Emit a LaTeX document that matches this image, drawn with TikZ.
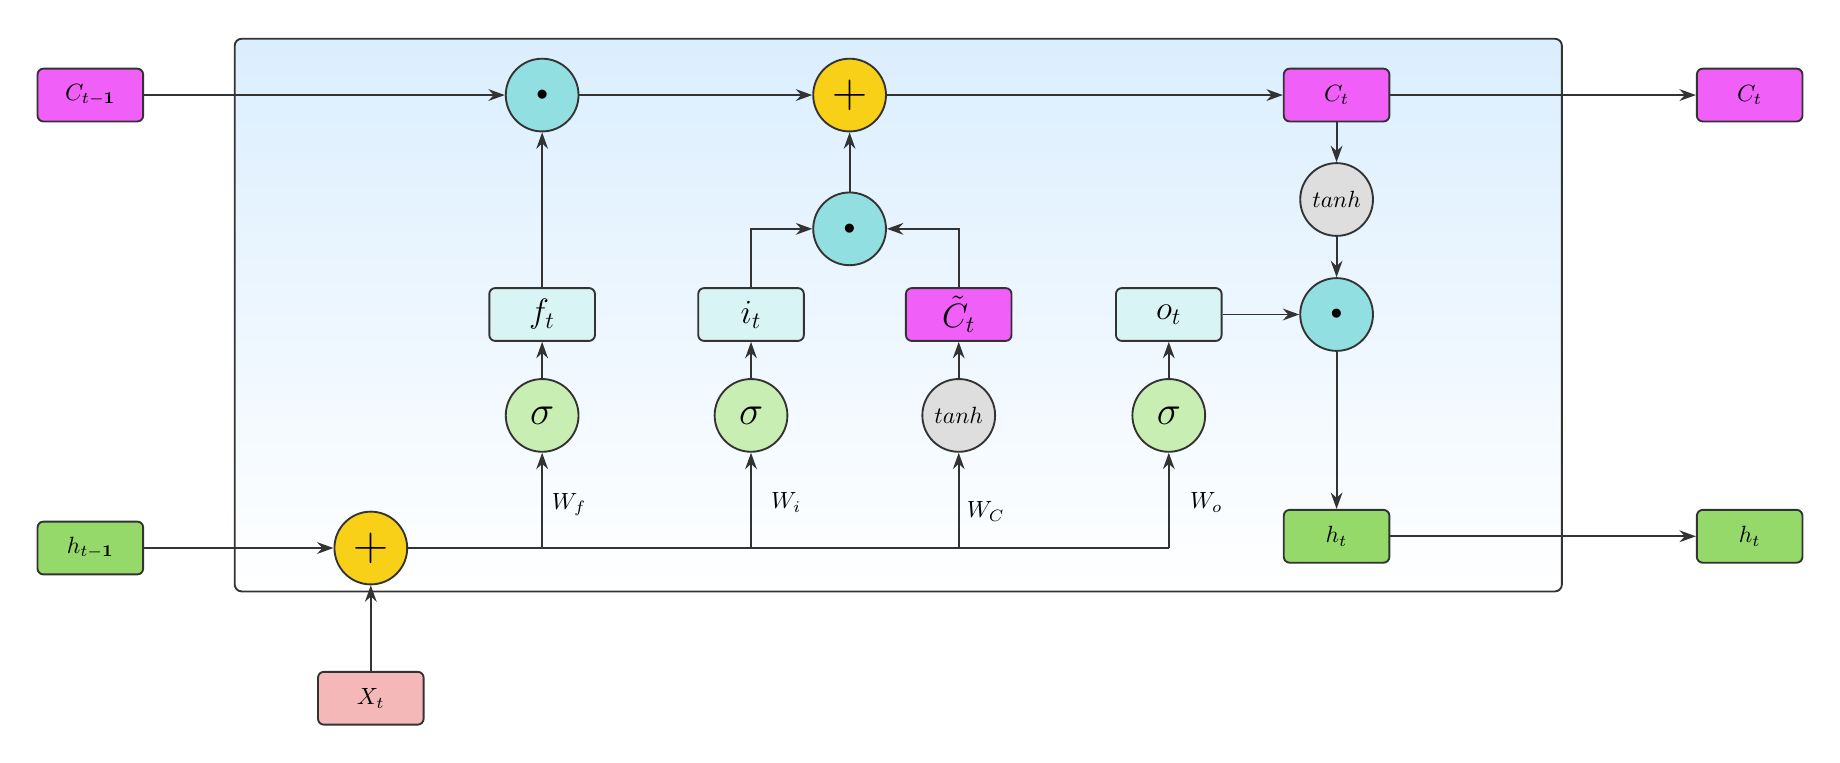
\documentclass[tikz,border=0pt]{standalone}
\usetikzlibrary{arrows.meta,shadings}
\definecolor{mag}{HTML}{F060F8}
\definecolor{grn}{HTML}{94D96A}
\definecolor{pnk}{HTML}{F4B8B8}
\definecolor{cya}{HTML}{92DFE2}
\definecolor{yel}{HTML}{F8D017}
\definecolor{gry}{HTML}{DEDEDE}
\definecolor{lcy}{HTML}{D9F4F4}
\definecolor{lgr}{HTML}{C8EEB4}
\definecolor{bgb}{HTML}{DBEEFE}
\definecolor{ln}{HTML}{333333}
\begin{document}
\begin{tikzpicture}[x=0.5pt,y=-0.5pt,
  box/.style={draw=ln,line width=0.8pt,rounded corners=2.5pt,minimum width=45pt,minimum height=22.5pt,inner sep=0pt},
  circ/.style={draw=ln,line width=0.8pt,circle,minimum size=31pt,inner sep=0pt},
  ar/.style={draw=ln,line width=0.8pt,-{Stealth[length=7pt,width=5pt]}},
  ln/.style={draw=ln,line width=0.8pt}]
\useasboundingbox (0,0) rectangle (1568,650);
\shade[top color=bgb,bottom color=white,rounded corners=3pt] (200,33) rectangle (1331,504);
\draw[ln,rounded corners=3pt] (200,33) rectangle (1331,504);
% io
\node[box,fill=mag] (cin) at (77,81) {$C_{t-\mathbf{1}}$};
\node[box,fill=grn] (hin) at (77,467) {$h_{t-\mathbf{1}}$};
\node[box,fill=pnk] (x) at (316,595) {$X_t$};
\node[box,fill=mag] (cout) at (1491,81) {$C_t$};
\node[box,fill=grn] (hout) at (1491,457) {$h_t$};
\node[box,fill=mag] (ct) at (1139,81) {$C_t$};
\node[box,fill=grn] (ht) at (1139,457) {$h_t$};
% circles
\node[circ,fill=cya] (d1) at (462,81) {$\bullet$};
\node[circ,fill=yel] (p1) at (724,81) {\huge$+$};
\node[circ,fill=cya] (d2) at (724,195) {$\bullet$};
\node[circ,fill=gry] (th) at (1139,170) {$tanh$};
\node[circ,fill=cya] (d3) at (1139,268) {$\bullet$};
\node[circ,fill=yel] (p0) at (316,467) {\huge$+$};
% gates
\node[box,fill=lcy] (f) at (462,268) {\Large$f_t$};
\node[box,fill=lcy] (i) at (640,268) {\Large$i_t$};
\node[box,fill=mag] (cc) at (817,268) {\Large$\tilde{C}_t$};
\node[box,fill=lcy] (o) at (996,268) {\Large$o_t$};
\node[circ,fill=lgr] (sf) at (462,354) {\LARGE$\sigma$};
\node[circ,fill=lgr] (si) at (640,354) {\LARGE$\sigma$};
\node[circ,fill=gry] (tc) at (817,354) {$tanh$};
\node[circ,fill=lgr] (so) at (996,354) {\LARGE$\sigma$};
\coordinate (bf) at (462,467);
\coordinate (bi) at (640,467);
\coordinate (bc) at (817,467);
\coordinate (bo) at (996,467);
\coordinate (ti) at (640,195);
\coordinate (tcc) at (817,195);
% connectors
\draw[ar] (cin) -- (d1);
\draw[ar] (d1) -- (p1);
\draw[ar] (p1) -- (ct);
\draw[ar] (ct) -- (cout);
\draw[ar] (ct) -- (th);
\draw[ar] (th) -- (d3);
\draw[ar] (d3) -- (ht);
\draw[ar] (ht) -- (hout);
\draw[ar] (o) -- (d3);
\draw[ar] (f) -- (d1);
\draw[ar] (d2) -- (p1);
\draw[ar] (i.north) |- (d2);
\draw[ar] (cc.north) |- (d2);
\draw[ar] (sf) -- (f);
\draw[ar] (si) -- (i);
\draw[ar] (tc) -- (cc);
\draw[ar] (so) -- (o);
\draw[ar] (hin) -- (p0);
\draw[ar] (x) -- (p0);
\draw[ln] (p0) -- (bo);
\draw[ar] (bf) -- (sf);
\draw[ar] (bi) -- (si);
\draw[ar] (bc) -- (tc);
\draw[ar] (bo) -- (so);
\node (wf) at (485,430) {$W_f$};
\node (wi) at (670,428) {$W_i$};
\node (wc) at (840,436) {$W_C$};
\node (wo) at (1028,428) {$W_o$};
\end{tikzpicture}
\end{document}
